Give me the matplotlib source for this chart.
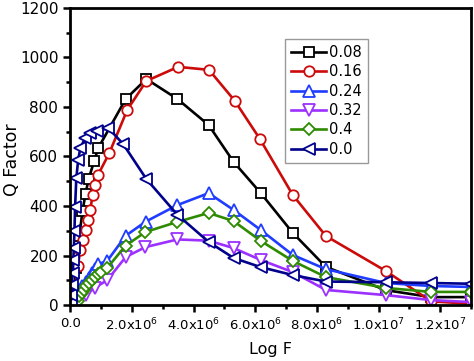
import matplotlib
matplotlib.use('Agg')
import matplotlib.pyplot as plt
from matplotlib.ticker import MultipleLocator, FixedLocator

plt.rcParams['font.family'] = ['DejaVu Sans']

# Q factor vs frequency for each composition
labels = ['0.08', '0.16', '0.24', '0.32', '0.4', '0.0']

x_008 = [0.1e6, 0.2e6, 0.3e6, 0.4e6, 0.5e6, 0.6e6, 0.78e6, 0.91e6, 1.8e6, 2.47e6, 3.48e6, 4.49e6,
         5.3e6, 6.18e6, 7.22e6, 8.29e6, 10.24e6, 11.7e6, 13e6]
q_008 = [20, 150, 280, 380, 450, 510, 582, 634, 832, 913, 832, 727, 578, 452, 291, 154, 60, 32, 32]

x_016 = [0.1e6, 0.25e6, 0.33e6, 0.42e6, 0.5e6, 0.57e6, 0.65e6, 0.73e6, 0.81e6, 0.9e6, 1.27e6, 1.85e6,
         2.47e6, 3.5e6, 4.5e6, 5.33e6, 6.15e6, 7.22e6, 8.29e6, 10.24e6, 11.7e6, 13e6]
q_016 = [20, 158, 222, 263, 303, 343, 384, 444, 485, 525, 614, 788, 905, 962, 950, 826, 671, 444,
         279, 137, 15, 5]

x_024 = [0.05e6, 0.2e6, 0.3e6, 0.4e6, 0.5e6, 0.6e6, 0.7e6, 0.8e6, 0.9e6, 1.2e6, 1.8e6, 2.45e6,
         3.48e6, 4.49e6, 5.3e6, 6.18e6, 7.22e6, 8.29e6, 10.24e6, 11.7e6, 13e6]
q_024 = [5, 45, 62, 78, 95, 110, 128, 145, 165, 178, 280, 337, 404, 452, 384, 303, 202, 145, 89, 77, 73]

x_032 = [0.2e6, 0.5e6, 0.8e6, 1.2e6, 1.8e6, 2.44e6, 3.48e6, 4.49e6, 5.3e6, 6.18e6, 7.22e6, 8.29e6,
         10.24e6, 11.7e6, 13e6]
q_032 = [5, 40, 70, 100, 194, 234, 265, 260, 230, 182, 133, 61, 40, 20, 12]

x_04 = [0.25e6, 0.3e6, 0.37e6, 0.45e6, 0.52e6, 0.6e6, 0.7e6, 0.8e6, 0.9e6, 1.0e6, 1.2e6, 1.8e6,
        2.44e6, 3.48e6, 4.49e6, 5.3e6, 6.18e6, 7.22e6, 8.29e6, 10.24e6, 11.7e6, 13e6]
q_04 = [15, 35, 50, 62, 75, 88, 100, 113, 125, 135, 150, 240, 295, 336, 372, 339, 259, 178, 113, 69,
        53, 53]

x_00 = [0.02e6, 0.04e6, 0.06e6, 0.08e6, 0.1e6, 0.12e6, 0.14e6, 0.16e6, 0.2e6, 0.26e6, 0.33e6, 0.49e6,
        0.65e6, 0.88e6, 1.24e6, 1.72e6, 2.47e6, 3.48e6, 4.49e6, 5.3e6, 6.18e6, 7.22e6, 8.29e6, 10.24e6,
        11.7e6, 13e6]
q_00 = [10, 40, 80, 130, 180, 230, 300, 396, 513, 586, 634, 675, 695, 703, 715, 650, 509, 364, 255,
        190, 153, 121, 95, 92, 89, 86]

xs = [x_008, x_016, x_024, x_032, x_04, x_00]
qs = [q_008, q_016, q_024, q_032, q_04, q_00]
colors = ['black', '#cc0a0a', '#1f3cff', '#9b30ff', '#2e8b00', '#00008b']
markers = ['s', 'o', '^', 'v', 'D', '<']
msizes = [6.5, 7.5, 8, 8, 6.5, 8]

xtick_vals = [0, 2e6, 4e6, 6e6, 8e6, 1e7, 1.2e7]
xtick_labels = ['0.0', r'2.0x10$^6$', r'4.0x10$^6$', r'6.0x10$^6$', r'8.0x10$^6$',
                r'1.0x10$^7$', r'1.2x10$^7$']

fig = plt.figure(figsize=(4.74, 3.61), dpi=100)
ax = fig.add_axes([0.148, 0.155, 0.846, 0.823])

for x, q, c, m, ms, lab in zip(xs, qs, colors, markers, msizes, labels):
    ax.plot(x, q, color=c, marker=m, markersize=ms, markerfacecolor='white',
            markeredgecolor=c, markeredgewidth=1.3, linewidth=1.9, label=lab)

ax.set_xlim(0, 1.3e7)
ax.set_ylim(0, 1200)
ax.xaxis.set_major_locator(FixedLocator(xtick_vals))
ax.set_xticklabels(xtick_labels)
ax.xaxis.set_minor_locator(MultipleLocator(1e6))
ax.yaxis.set_major_locator(MultipleLocator(200))
ax.yaxis.set_minor_locator(MultipleLocator(100))
ax.tick_params(which='both', direction='out', top=False, right=False, width=1.8)
ax.tick_params(axis='y', labelsize=11)
ax.tick_params(axis='x', labelsize=9.5)
ax.tick_params(which='major', length=5)
ax.tick_params(which='minor', length=3)
for s in ax.spines.values():
    s.set_linewidth(2)

ax.set_xlabel('Log F', fontsize=11.5)
ax.set_ylabel('Q Factor', fontsize=12.5)
ax.xaxis.set_label_coords(0.5, -0.125)
ax.yaxis.set_label_coords(-0.122, 0.49)

leg = ax.legend(loc='upper left', bbox_to_anchor=(0.537, 0.895), fontsize=10.5, frameon=True,
                fancybox=False, edgecolor='gray', handlelength=2.4, labelspacing=0.3,
                handletextpad=0.2, borderpad=0.4, borderaxespad=0)
leg.get_frame().set_linewidth(1.0)

fig.savefig('out.png', dpi=100)
